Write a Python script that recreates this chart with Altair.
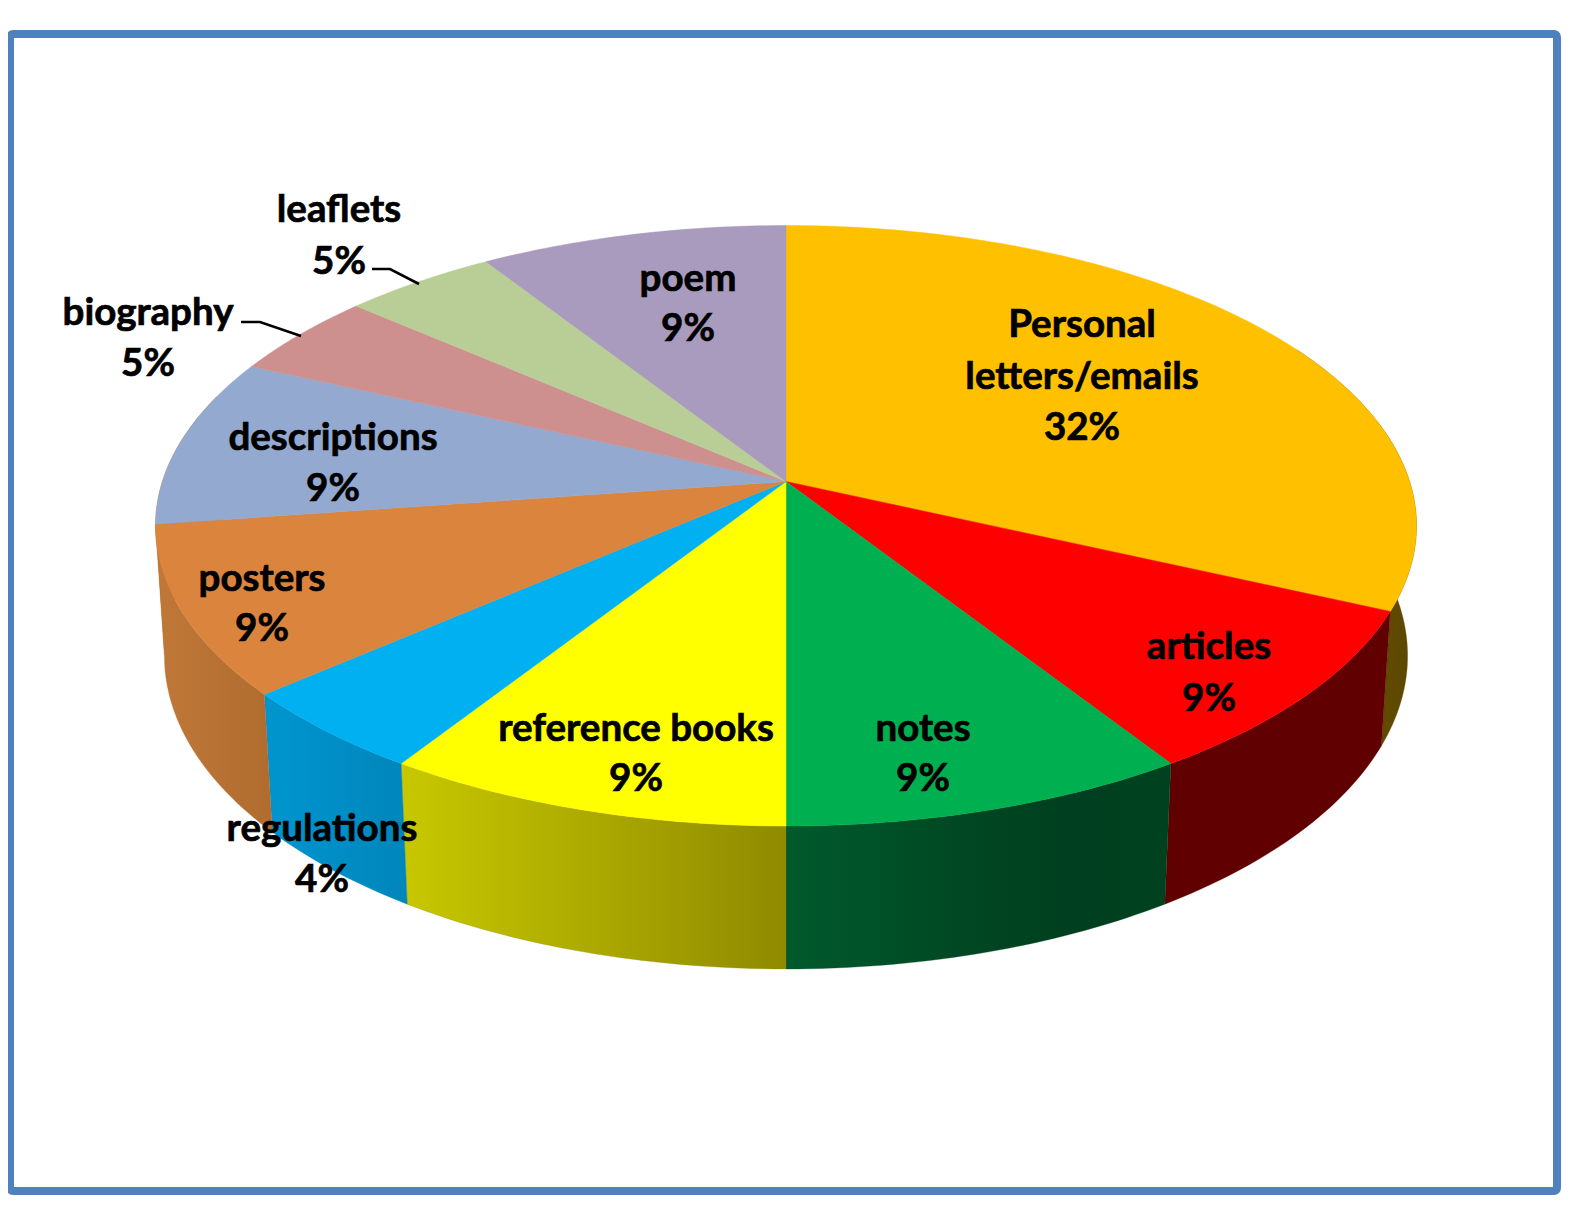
import math
import altair as alt

# ---- data ----
categories = ["Personal letters/emails", "articles", "notes", "reference books", "regulations",
              "posters", "descriptions", "biography", "leaflets", "poem"]
counts = [7, 2, 2, 2, 1, 2, 2, 1, 1, 2]
top_colors = ["#FFC000", "#FF0000", "#00B050", "#FFFF00", "#00B0F0",
              "#DB843D", "#93A9CF", "#CE8F8F", "#B9CD96", "#A99BBD"]
side_stops = [["#6E5500", "#5C4700"], ["#600000", "#600000"],
              ["#005A2C", "#005027", "#004622", "#003F1F", "#004220"],
              ["#C8C800", "#8F8A00"], ["#0095CF", "#0086BB"], ["#C07838", "#B06C2E"]]
label_lines = ["leaflets", "5%", "biography", "5%", "poem", "9%", "Personal", "letters/emails", "32%",
               "descriptions", "9%", "articles", "9%", "posters", "9%", "reference books", "9%",
               "notes", "9%", "regulations", "4%"]
label_x = [339, 339, 148, 148, 688, 688, 1082, 1082, 1082, 333, 333, 1209, 1209, 262, 262, 636, 636, 923, 923, 322, 322]
label_y = [210, 262, 313, 364, 279, 329, 325, 377, 428, 438, 489, 647, 699, 579, 629, 729, 779, 729, 779, 829, 880]
leader_x = [[372, 390, 419], [241, 260, 301]]
leader_y = [[269, 269, 284], [322, 322, 336]]

# ---- perspective of the disc ----
W, H = 1547, 1157
X0, Y0 = 10, 34
CX, CY = 786, 481.5
A, B, C, D, DX, E = 293.7, 623.6, 0.1474, 0.01925, 0.014, 131.3


def project(theta, depth):
    u, v = math.sin(theta), math.cos(theta)
    return [B * u / (1 + C * v + DX * depth), (-A * v + E * depth) / (1 + C * v + D * depth)]


def arc(a0, a1, depth):
    n = max(8, int((a1 - a0) * 60))
    return [project(a0 + (a1 - a0) * i / n, depth) for i in range(n + 1)]


def feature(ring):
    return {"type": "Feature", "properties": {}, "geometry": {"type": "Polygon", "coordinates": [ring + [ring[0]]]}}


projection = alt.Projection(type="identity", scale=1, translate=[CX - X0, CY - Y0])
total = sum(counts)
angles = [0.0]
for c in counts:
    angles.append(angles[-1] + c / total * 2 * math.pi)

xs = alt.Scale(domain=[X0, X0 + W], range=[0, W])
ys = alt.Scale(domain=[Y0, Y0 + H], range=[0, H])

layers = []
# outer frame
frame = [{"x": X0, "x2": X0 + W, "y": Y0, "y2": Y0 + H}]
layers.append(alt.Chart(alt.Data(values=frame)).mark_rect(
    fill="#FFFFFF", stroke="#4F81BD", strokeWidth=8, cornerRadius=3, clip=False).encode(
    x=alt.X("x:Q", scale=xs, axis=None), x2="x2:Q", y=alt.Y("y:Q", scale=ys, axis=None), y2="y2:Q"))
# a sliver of the posters wall continues behind the left edge of the top
ring = arc(angles[6], angles[6] + 0.45, 0) + arc(angles[6], angles[6] + 0.45, 1)[::-1]
layers.append(alt.Chart(alt.Data(values=[feature(ring)])).mark_geoshape(
    filled=True, fill=side_stops[5][0], stroke=side_stops[5][0], strokeWidth=0.3).project(**projection.to_dict()))
# side walls
for i, stops in enumerate(side_stops):
    a0, a1 = angles[i], angles[i + 1]
    if i == 0:
        a0 = math.pi / 2 - 0.5
    ring = arc(a0, a1, 0) + arc(a0, a1, 1)[::-1]
    grad = alt.Gradient(gradient="linear", x1=0, x2=1, y1=0, y2=0,
                        stops=[alt.GradientStop(color=s, offset=j / (len(stops) - 1)) for j, s in enumerate(stops)])
    layers.append(alt.Chart(alt.Data(values=[feature(ring)])).mark_geoshape(
        filled=True, fill=grad, stroke=stops[-1], strokeWidth=0.3).project(**projection.to_dict()))
# top surface
for i, col in enumerate(top_colors):
    ring = [[0.0, 0.0]] + arc(angles[i], angles[i + 1], 0)
    layers.append(alt.Chart(alt.Data(values=[feature(ring)])).mark_geoshape(
        filled=True, fill=col, stroke=col, strokeWidth=0.5).project(**projection.to_dict()))

for lx, ly in zip(leader_x, leader_y):
    rows = [{"x": a, "y": b, "o": k} for k, (a, b) in enumerate(zip(lx, ly))]
    layers.append(alt.Chart(alt.Data(values=rows)).mark_line(color="#000000", strokeWidth=2.6).encode(
        x=alt.X("x:Q", scale=xs, axis=None), y=alt.Y("y:Q", scale=ys, axis=None), order="o:Q"))

text_rows = [{"t": t, "x": a, "y": b} for t, a, b in zip(label_lines, label_x, label_y)]
layers.append(alt.Chart(alt.Data(values=text_rows)).mark_text(
    font="Lato", fontWeight="bold", fontSize=38.5, color="#000000", stroke="#000000", strokeWidth=0.7,
    align="center", baseline="middle").encode(
    x=alt.X("x:Q", scale=xs, axis=None), y=alt.Y("y:Q", scale=ys, axis=None), text="t:N"))

chart = alt.layer(*layers).properties(
    width=W, height=H, padding={"left": X0 - 8, "top": Y0 - 8, "right": 6, "bottom": 6},
    autosize=alt.AutoSizeParams(type="none"),
    background="#FFFFFF"
).configure_view(stroke=None, fill="#FFFFFF")

chart.save("out.html", embed_options={"renderer": "svg", "actions": False})
